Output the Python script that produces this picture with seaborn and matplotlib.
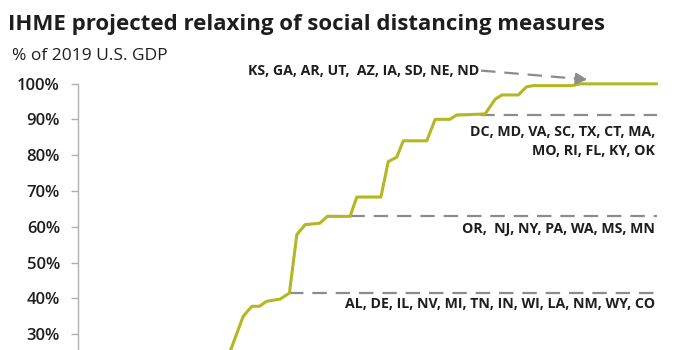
import matplotlib
matplotlib.use("Agg")
import matplotlib.pyplot as plt
import seaborn as sns
import pandas as pd

# ---- data ----
days = [44.0, 45.6, 49.3, 51.9, 54.1, 56.3, 60.3, 63.1, 65.3, 67.8, 72.2, 74.4,
        81.2, 83.2, 90.4, 92.6, 95.1, 97.1, 104.1, 106.6, 111.0, 113.0, 121.5,
        124.5, 126.5, 131.4, 133.9, 135.9, 147.4, 149.9, 172.7]
gdp_pct = [22.0, 25.7, 35.0, 37.8, 37.8, 39.2, 39.8, 41.5, 57.8, 60.6, 61.0, 62.9,
           62.9, 68.3, 68.3, 78.2, 79.4, 84.0, 84.0, 90.0, 90.0, 91.2, 91.5,
           95.6, 96.8, 96.8, 99.1, 99.4, 99.4, 99.9, 99.9]

group_levels = [41.5, 62.9, 91.3]
group_start_days = [63.1, 74.4, 113.0]
group_end_day = 172.7
group_labels = [
    "AL, DE, IL, NV, MI, TN, IN, WI, LA, NM, WY, CO",
    "OR,  NJ, NY, PA, WA, MS, MN",
    "DC, MD, VA, SC, TX, CT, MA,\nMO, RI, FL, KY, OK",
]
group_label_y = [38.5, 59.4, 83.9]
top_label = "KS, GA, AR, UT,  AZ, IA, SD, NE, ND"
arrow_start = (120.3, 103.6)
arrow_end = (152.0, 101.1)

y_ticks = [30, 40, 50, 60, 70, 80, 90, 100]
y_ticklabels = [f"{v}%" for v in y_ticks]

title = "IHME projected relaxing of social distancing measures"
subtitle = "% of 2019 U.S. GDP"

# ---- style ----
sns.set_theme(style="white")
plt.rcParams["font.family"] = ["Open Sans", "DejaVu Sans"]

line_color = "#b3b822"
dash_color = "#8c8c8c"
text_color = "#1e1e1e"
dash_style = (0, (6.5, 4.0))

fig = plt.figure(figsize=(7, 3.5), dpi=100)
ax = fig.add_axes([78 / 700, 0.0, (661 - 78) / 700, 1 - 83.5 / 350])

df = pd.DataFrame({"day": days, "gdp": gdp_pct})

ax.hlines(group_levels, group_start_days, group_end_day, colors=dash_color,
          linewidth=1.6, linestyles=dash_style, zorder=1)

sns.lineplot(data=df, x="day", y="gdp", ax=ax, color=line_color,
             linewidth=2.2, zorder=3, estimator=None, sort=False)
for ln in ax.get_lines():
    ln.set_clip_on(False)

ax.set_xlim(0, 174)
ax.set_ylim(25.6, 100)
ax.set_xlabel("")
ax.set_ylabel("")
ax.set_xticks([])
ax.set_yticks(y_ticks)
ax.set_yticklabels(y_ticklabels, fontsize=12, fontweight="semibold", color=text_color)
ax.tick_params(axis="y", which="major", direction="out", length=5, width=1,
               color="#b0b0b0", pad=8, left=True)
for s in ["top", "right", "bottom"]:
    ax.spines[s].set_visible(False)
ax.spines["left"].set_color("#b0b0b0")
ax.spines["left"].set_linewidth(1)

for lbl, yv in zip(group_labels, group_label_y):
    ax.text(172.2, yv, lbl, ha="right", va="center", fontsize=10.2,
            fontweight="bold", color=text_color, linespacing=1.45, clip_on=False)

ax.text(119.7, 103.6, top_label, ha="right", va="center", fontsize=10.2,
        fontweight="bold", color=text_color, clip_on=False)

# dashed arrow: dashed shaft + small solid head
head_frac = 0.12
hx0 = arrow_end[0] - (arrow_end[0] - arrow_start[0]) * head_frac
hy0 = arrow_end[1] - (arrow_end[1] - arrow_start[1]) * head_frac
ax.plot([arrow_start[0], hx0], [arrow_start[1], hy0], color=dash_color,
        linewidth=1.6, linestyle=dash_style, clip_on=False, zorder=2)
ax.annotate("", xy=arrow_end, xytext=(hx0, hy0),
            xycoords="data", textcoords="data", annotation_clip=False,
            arrowprops=dict(arrowstyle="-|>,head_length=0.55,head_width=0.28",
                            color=dash_color, linewidth=1.6,
                            shrinkA=0, shrinkB=0))

fig.text(8 / 700, 1 - 30 / 350, title, fontsize=16, fontweight="bold",
         color=text_color, va="baseline", ha="left")
fig.text(12 / 700, 1 - 60 / 350, subtitle, fontsize=12.5, color=text_color,
         va="baseline", ha="left")

fig.savefig("out.png", dpi=100, facecolor="white")
